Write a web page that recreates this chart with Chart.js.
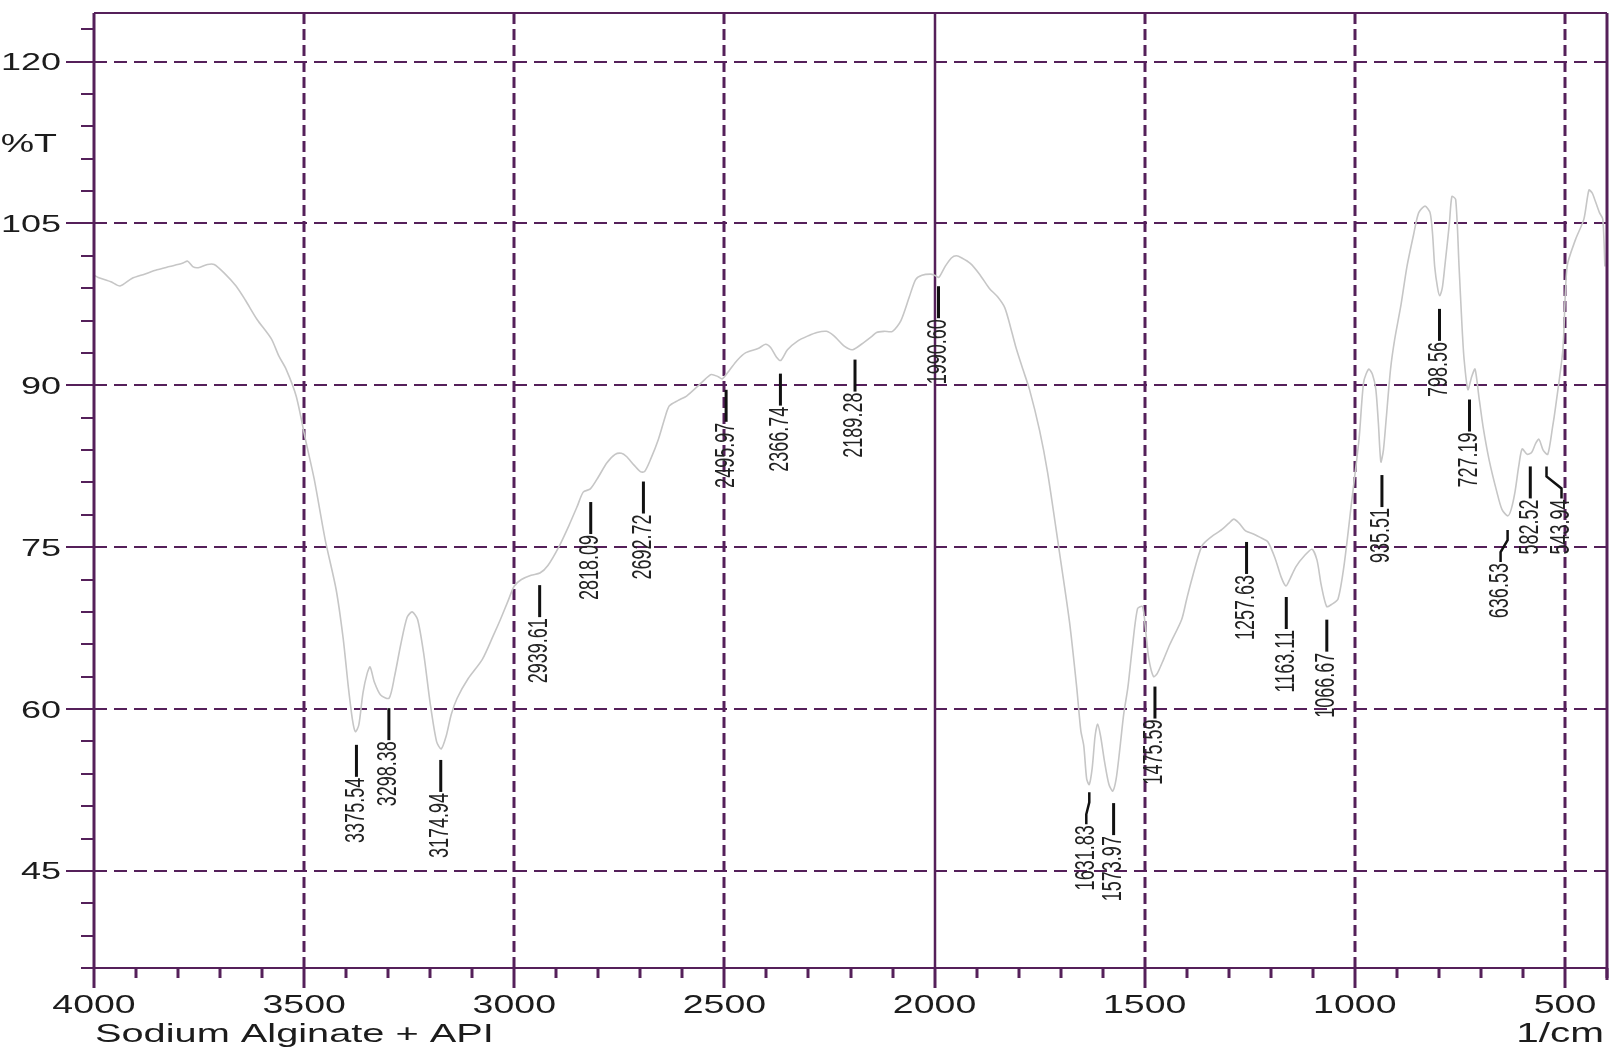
<!DOCTYPE html>
<html>
<head>
<meta charset="utf-8">
<title>FTIR - Sodium Alginate + API</title>
<script src="https://cdn.jsdelivr.net/npm/chart.js@4.4.1/dist/chart.umd.min.js"></script>
<style>
  html, body { margin: 0; padding: 0; background: #fff; }
  #wrap { width: 1624px; height: 1055px; }
</style>
</head>
<body>
<div id="wrap"><canvas id="ftir" width="1624" height="1055"></canvas></div>
<script>
// spectrum (1/cm vs %T)
const wavenumbers = [
  4000, 3990, 3960, 3938, 3910, 3880, 3850, 3820, 3790, 3777, 3765, 3752, 3730, 3714, 3690, 3662, 3640, 3612,
  3578, 3560, 3543, 3519, 3497, 3476, 3450, 3424, 3407, 3395, 3385, 3378, 3370, 3360, 3350, 3343, 3333, 3318,
  3298, 3285, 3270, 3255, 3243, 3230, 3215, 3200, 3185, 3174, 3162, 3150, 3136, 3110, 3076, 3050, 3033, 3015,
  3000, 2983, 2960, 2939, 2920, 2893, 2870, 2850, 2836, 2819, 2800, 2780, 2760, 2745, 2733, 2715, 2700, 2690,
  2675, 2657, 2640, 2631, 2610, 2590, 2564, 2545, 2531, 2515, 2505, 2488, 2470, 2450, 2420, 2402, 2390, 2376,
  2366, 2350, 2326, 2300, 2280, 2257, 2240, 2214, 2195, 2174, 2150, 2138, 2120, 2100, 2080, 2060, 2045, 2030,
  2010, 2000, 1990, 1975, 1960, 1948, 1935, 1915, 1893, 1870, 1850, 1833, 1820, 1807, 1790, 1774, 1750, 1731,
  1705, 1679, 1662, 1652, 1645, 1638, 1632, 1625, 1618, 1612, 1605, 1595, 1585, 1576, 1568, 1560, 1550, 1540,
  1530, 1517, 1505, 1497, 1490, 1479, 1470, 1455, 1440, 1412, 1400, 1388, 1364, 1340, 1321, 1300, 1288, 1275,
  1260, 1240, 1220, 1207, 1190, 1175, 1164, 1155, 1140, 1120, 1102, 1090, 1080, 1067, 1055, 1040, 1025, 1007,
  990, 979, 967, 958, 950, 944, 938, 932, 926, 915, 905, 890, 876, 860, 848, 833, 821, 815,
  810, 803, 798, 792, 786, 775, 769, 760, 752, 745, 740, 731, 722, 714, 705, 695, 680, 662,
  650, 636, 628, 619, 610, 602, 590, 579, 570, 562, 552, 541, 530, 522, 505, 495, 475, 455,
  443, 435, 429, 418, 410, 405
];
const transmittance = [
  100.2, 100.0, 99.6, 99.2, 99.9, 100.3, 100.7, 101.0, 101.3, 101.5, 101.0, 100.9, 101.2, 101.2, 100.4, 99.2, 97.9, 96.1,
  94.3, 92.7, 91.5, 89.0, 85.0, 81.3, 75.7, 71.1, 66.5, 62.1, 59.0, 57.9, 58.5, 61.5, 63.3, 63.9, 62.5, 61.3,
  61.0, 63.0, 66.0, 68.5, 69.0, 68.3, 65.0, 60.5, 57.0, 56.3, 57.5, 59.5, 61.0, 62.8, 64.6, 66.8, 68.3, 70.0,
  71.4, 72.0, 72.4, 72.6, 73.3, 75.1, 77.0, 78.8, 80.1, 80.4, 81.5, 82.8, 83.6, 83.7, 83.4, 82.6, 82.0, 82.0,
  83.2, 85.0, 87.2, 88.1, 88.6, 89.0, 89.9, 90.6, 91.0, 90.8, 90.6, 91.4, 92.3, 93.0, 93.4, 93.8, 93.5, 92.6,
  92.3, 93.3, 94.1, 94.6, 94.9, 95.0, 94.6, 93.6, 93.3, 93.8, 94.5, 94.9, 95.0, 95.0, 96.0, 98.2, 99.8, 100.2,
  100.3, 100.2, 100.0, 101.0, 101.8, 102.0, 101.8, 101.3, 100.3, 99.0, 98.2, 97.2, 95.5, 93.6, 91.5, 89.6, 85.8, 81.9,
  75.1, 68.1, 62.1, 58.0, 56.6, 53.5, 53.0, 54.5, 57.5, 58.6, 57.5, 55.0, 53.0, 52.4, 53.5, 56.0, 59.5, 62.0,
  65.5, 69.3, 69.5, 67.0, 64.6, 63.0, 63.3, 64.6, 66.0, 68.3, 70.2, 72.0, 75.1, 76.0, 76.5, 77.2, 77.6, 77.2,
  76.5, 76.2, 75.8, 75.5, 74.0, 72.2, 71.4, 72.0, 73.2, 74.2, 74.8, 73.8, 71.5, 69.5, 69.7, 70.2, 73.5, 79.4,
  85.0, 90.3, 91.5, 91.0, 89.6, 86.5, 82.9, 84.0, 86.6, 91.5, 94.3, 97.5, 101.0, 104.0, 106.0, 106.6, 106.0, 104.0,
  101.0, 99.0, 98.3, 99.0, 101.0, 105.0, 107.5, 107.2, 101.0, 95.5, 92.4, 89.6, 90.8, 91.5, 89.0, 86.2, 83.0, 80.1,
  78.5, 77.9, 78.5, 80.1, 82.5, 84.1, 83.6, 83.8, 84.6, 85.0, 84.0, 83.6, 86.0, 88.1, 93.3, 101.0, 103.5, 105.4,
  108.1, 107.8, 107.2, 106.0, 105.4, 101.0
];

// peak picks: label text and %T at the peak
const peakLabels = [
  '3375.54', '3298.38', '3174.94', '2939.61', '2818.09', '2692.72', '2495.97', '2366.74', '2189.28', '1990.60', '1631.83',
  '1573.97', '1475.59', '1257.63', '1163.11', '1066.67', '935.51', '798.56', '727.19', '636.53', '582.52', '543.94'
];
const peakT = [
  57.7, 61.1, 56.3, 72.5, 80.2, 82.1, 90.6, 92.1, 93.4, 100.2, 53.3,
  52.3, 63.1, 76.5, 71.4, 69.3, 82.7, 98.1, 89.7, 77.6, 83.5, 83.5
];

const xMajorTicks = [4000, 3500, 3000, 2500, 2000, 1500, 1000, 500];
const yMajorTicks = [120, 105, 90, 75, 60, 45];

const PURPLE = '#55205a';
const SX = 1.5;          // the scan is stretched sideways, text too
const FONT = '"Liberation Sans", Arial, Helvetica, sans-serif';

// leaders that bend sideways to dodge their neighbour
const leaderNudge = { '636.53': -7, '543.94': 15, '1631.83': -3 };

function wideText(ctx, str, x, y, align, size) {
    ctx.save();
    ctx.translate(x, y);
    ctx.scale(SX, 1);
    ctx.font = size + 'px ' + FONT;
    ctx.textAlign = align;
    ctx.textBaseline = 'alphabetic';
    ctx.fillText(str, 0, 0);
    ctx.restore();
}

function line(ctx, x1, y1, x2, y2, w, dash) {
    ctx.save();
    ctx.lineWidth = w;
    ctx.setLineDash(dash || []);
    ctx.beginPath();
    ctx.moveTo(x1, y1);
    ctx.lineTo(x2, y2);
    ctx.stroke();
    ctx.restore();
}

const ftirDecor = {
    id: 'ftirDecor',

    beforeDatasetsDraw(chart) {
        const { ctx, chartArea: a, scales: { x, y } } = chart;
        ctx.save();
        ctx.strokeStyle = PURPLE;
        // horizontal grid
        yMajorTicks.forEach(v => {
            const py = Math.round(y.getPixelForValue(v));
            line(ctx, a.left, py, a.right, py, 2, [13, 7]);
        });
        // vertical grid, 2000 drawn solid
        xMajorTicks.forEach(v => {
            if (v === 4000) return;
            const px = Math.round(x.getPixelForValue(v));
            if (v === 2000) line(ctx, px, a.top, px, a.bottom, 2.5);
            else line(ctx, px, a.top, px, a.bottom, 3, [11, 5]);
        });
        ctx.restore();
    },

    afterDatasetsDraw(chart) {
        const { ctx, chartArea: a, scales: { x, y } } = chart;
        ctx.save();
        ctx.strokeStyle = PURPLE;

        // frame
        line(ctx, a.left, a.top, a.left, a.bottom + 20, 3);
        line(ctx, a.right, a.top, a.right, a.bottom + 12, 3);
        line(ctx, a.left, a.top, a.right, a.top, 2);
        line(ctx, a.left, a.bottom, a.right, a.bottom, 2);

        // y ticks every 3 %T
        for (let v = 36; v <= 123; v += 3) {
            const py = Math.round(y.getPixelForValue(v));
            const len = yMajorTicks.includes(v) ? 28 : 13;
            line(ctx, a.left - len, py, a.left, py, 2);
        }
        // x ticks every 100 1/cm
        for (let v = 400; v < 4000; v += 100) {
            const px = Math.round(x.getPixelForValue(v));
            const len = v % 500 === 0 ? 20 : 10;
            line(ctx, px, a.bottom, px, a.bottom + len, 3);
        }

        // tick labels
        ctx.fillStyle = '#1c1c1c';
        yMajorTicks.forEach(v => {
            wideText(ctx, String(v), 61, y.getPixelForValue(v) + 8.5, 'right', 24);
        });
        wideText(ctx, '%T', 57, 152, 'right', 25);
        xMajorTicks.forEach(v => {
            wideText(ctx, String(v), x.getPixelForValue(v), a.bottom + 45, 'center', 25);
        });
        wideText(ctx, 'Sodium Alginate + API', 95, 1042, 'left', 26.5);
        wideText(ctx, '1/cm', 1604, 1042, 'right', 27);

        // peak picks: short leader below the band, value written upward under it
        ctx.strokeStyle = '#111';
        ctx.fillStyle = '#222';
        peakLabels.forEach((lab, i) => {
            const px = x.getPixelForValue(parseFloat(lab));
            const top = y.getPixelForValue(peakT[i]) + 11;
            const nudge = leaderNudge[lab] || 0;
            let bottom = top + 32;
            if (nudge) {
                ctx.save();
                ctx.lineWidth = 2.5;
                ctx.beginPath();
                ctx.moveTo(px, top);
                ctx.lineTo(px, top + 10);
                ctx.lineTo(px + nudge, top + 22);
                ctx.lineTo(px + nudge, bottom);
                ctx.stroke();
                ctx.restore();
            } else {
                line(ctx, px, top, px, bottom, 3);
            }
            ctx.save();
            ctx.translate(px + nudge, bottom + 1);
            ctx.scale(SX, 1);
            ctx.rotate(-Math.PI / 2);
            ctx.font = '18px ' + FONT;
            ctx.textAlign = 'right';
            ctx.textBaseline = 'middle';
            ctx.fillText(lab, 0, 0);
            ctx.restore();
        });
        ctx.restore();
    }
};

new Chart(document.getElementById('ftir'), {
    type: 'line',
    data: {
        datasets: [{
            label: 'Sodium Alginate + API',
            data: wavenumbers.map((w, i) => ({ x: w, y: transmittance[i] })),
            borderColor: '#c6c6c6',
            borderWidth: 1.6,
            pointRadius: 0,
            tension: 0.25,
            fill: false
        }]
    },
    options: {
        responsive: false,
        animation: false,
        layout: { padding: { left: 94, right: 17, top: 13, bottom: 87 } },
        scales: {
            x: { type: 'linear', reverse: true, min: 400, max: 4000, display: false },
            y: { type: 'linear', min: 36, max: 124.5, display: false }
        },
        plugins: {
            legend: { display: false },
            title: { display: false },
            tooltip: { enabled: false }
        }
    },
    plugins: [ftirDecor]
});
</script>
</body>
</html>
